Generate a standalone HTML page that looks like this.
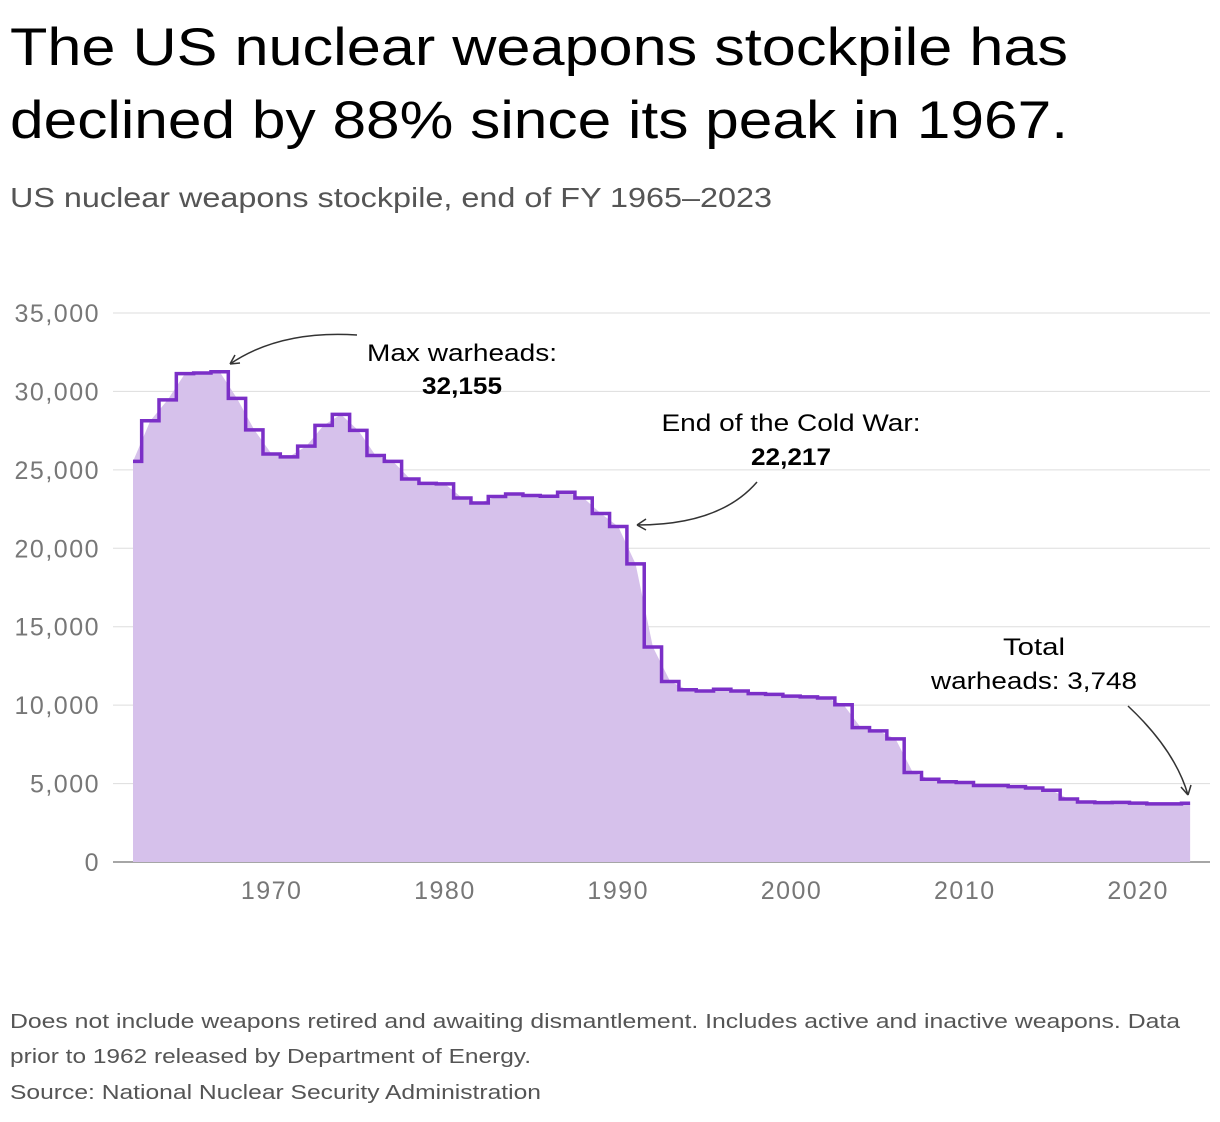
<!DOCTYPE html>
<html><head><meta charset="utf-8"><style>
body{margin:0;background:#fff;font-family:"Liberation Sans",sans-serif;}
svg{display:block}
</style></head><body>
<svg width="1220" height="1122" xmlns="http://www.w3.org/2000/svg">
<text x="10" y="65" font-size="53" fill="#000" textLength="1058" lengthAdjust="spacingAndGlyphs">The US nuclear weapons stockpile has</text>
<text x="10" y="138" font-size="53" fill="#000" textLength="1058" lengthAdjust="spacingAndGlyphs">declined by 88% since its peak in 1967.</text>
<text x="10" y="207" font-size="28" fill="#555" textLength="762" lengthAdjust="spacingAndGlyphs">US nuclear weapons stockpile, end of FY 1965–2023</text>
<g id="grid"></g>
<path id="area" fill="#d6c1eb"/>
<path id="line" fill="none" stroke="#7b2fc7" stroke-width="3.5"/>
<g id="xt"></g>
<g font-size="24" fill="#000" text-anchor="middle" lengthAdjust="spacingAndGlyphs">
<text x="462" y="361" textLength="190" lengthAdjust="spacingAndGlyphs">Max warheads:</text>
<text x="462" y="394" font-weight="bold" textLength="80" lengthAdjust="spacingAndGlyphs">32,155</text>
<text x="791" y="431" textLength="259" lengthAdjust="spacingAndGlyphs">End of the Cold War:</text>
<text x="791" y="465" font-weight="bold" textLength="80" lengthAdjust="spacingAndGlyphs">22,217</text>
<text x="1034" y="655" textLength="62" lengthAdjust="spacingAndGlyphs">Total</text>
<text x="1034" y="689" textLength="206" lengthAdjust="spacingAndGlyphs">warheads: 3,748</text>
</g>
<g fill="none" stroke="#333" stroke-width="1.5">
<path d="M357,335 Q280,330 230,364 M230,364 l10,-1 M230,364 l5,-9"/>
<path d="M757,482 Q720,525 637,525 M637,525 l9,-6 M637,525 l9,5"/>
<path d="M1128,706 Q1175,750 1188,795 M1188,795 l-7,-8 M1188,795 l3,-10"/>
</g>
<g font-size="20" fill="#555">
<text x="10" y="1028" textLength="1170" lengthAdjust="spacingAndGlyphs">Does not include weapons retired and awaiting dismantlement. Includes active and inactive weapons. Data</text>
<text x="10" y="1063" textLength="521" lengthAdjust="spacingAndGlyphs">prior to 1962 released by Department of Energy.</text>
<text x="10" y="1099" textLength="531" lengthAdjust="spacingAndGlyphs">Source: National Nuclear Security Administration</text>
</g>
</svg>
<script>
const years=[];for(let y=1962;y<=2023;y++)years.push(y);
const values=[25540,28133,29463,31139,31175,31255,29561,27552,26008,25830,26516,27835,28537,27519,25914,25542,24418,24138,24104,23208,22886,23305,23459,23368,23317,23575,23205,22217,21392,19008,13708,11511,10979,10904,11011,10903,10732,10685,10577,10526,10457,10027,8570,8360,7853,5709,5273,5113,5066,4876,4881,4804,4717,4571,4018,3822,3785,3805,3750,3708,3708,3748];
const yTicks=[0,5000,10000,15000,20000,25000,30000,35000];
const yTickLabels=["0","5,000","10,000","15,000","20,000","25,000","30,000","35,000"];
const xTicks=[1970,1980,1990,2000,2010,2020];
const NS="http://www.w3.org/2000/svg";
const X=yr=>133+(yr-1962)*17.33;
const Y=v=>862-v*549/35000;
const grid=document.getElementById('grid');
yTicks.forEach((t,i)=>{
 const l=document.createElementNS(NS,'line');
 l.setAttribute('x1',113);l.setAttribute('x2',1210);l.setAttribute('y1',Y(t));l.setAttribute('y2',Y(t));
 l.setAttribute('stroke',t===0?'#888':'#ddd');l.setAttribute('stroke-width',t===0?1.5:1);
 
 
 grid.appendChild(l);
 const tx=document.createElementNS(NS,'text');
 tx.setAttribute('x',100);tx.setAttribute('y',Y(t)+9);tx.setAttribute('text-anchor','end');
 tx.setAttribute('font-size','25');tx.setAttribute('fill','#777');tx.setAttribute('letter-spacing','1.5');
 tx.textContent=yTickLabels[i];
 
 
 grid.appendChild(tx);
});
const xt=document.getElementById('xt');
xTicks.forEach(t=>{
 const tx=document.createElementNS(NS,'text');
 tx.setAttribute('x',X(t));tx.setAttribute('y',899);tx.setAttribute('text-anchor','middle');
 tx.setAttribute('font-size','25');tx.setAttribute('fill','#777');tx.setAttribute('letter-spacing','1.5');
 tx.textContent=t;
 
 
 xt.appendChild(tx);
});
let a='M'+X(years[0])+','+Y(0);
years.forEach((y,i)=>{a+=' L'+X(y)+','+Y(values[i]);});
a+=' L'+X(years[years.length-1])+','+Y(0)+'Z';
document.getElementById('area').setAttribute('d',a);
let d='M'+X(years[0])+','+Y(values[0]);
for(let i=1;i<years.length;i++){
 const m=(X(years[i-1])+X(years[i]))/2;
 d+=' H'+m+' V'+Y(values[i]);
}
d+=' H'+X(years[years.length-1]);
document.getElementById('line').setAttribute('d',d);
</script>
</body></html>
